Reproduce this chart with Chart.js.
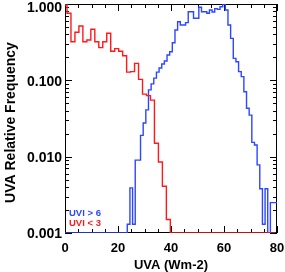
<!DOCTYPE html>
<html>
<head>
<meta charset="utf-8">
<script src="https://cdn.jsdelivr.net/npm/chart.js@4.4.1/dist/chart.umd.min.js"></script>
<style>
  html, body { margin: 0; padding: 0; background: #fff; }
  #wrap { width: 285px; height: 272px; }
</style>
</head>
<body>
<div id="wrap"><canvas id="c" width="285" height="272"></canvas></div>
<script>
// UVA histogrammi, log-skaala
const xTicks = [0, 20, 40, 60, 80];
const xTickLabels = ['0', '20', '40', '60', '80'];
const yTicks = [1, 0.1, 0.01, 0.001];
const yTickLabels = ['1.000', '0.100', '0.010', '0.001'];
const Y_MIN = 0.001, Y_MAX = 1;

// UVI < 3 (punainen), bin 1.5
const lowX = [0, 1.5, 3, 4.5, 6, 7.5, 9, 10.5, 12, 13.5, 15, 16.5, 18, 19.5, 21, 22.5, 24, 25.5, 27, 28.5,
  30, 31.5, 33, 34.5, 36, 37.5, 39, 40.5, 42, 43.5, 45, 46.5, 48, 49.5, 51, 52.5, 54, 55.5, 57, 58.5,
  60, 61.5, 63, 64.5, 66, 67.5, 69, 70.5, 72, 73.5, 75, 76.5, 78, 79.5];
const lowY = [0.97, 0.755, 0.32, 0.426, 0.515, 0.32, 0.337, 0.466, 0.32, 0.268, 0.32, 0.413, 0.24, 0.26, 0.24, 0.21, 0.128, 0.13, 0.167, 0.103,
  0.066, 0.063, 0.055, 0.015, 0.0085, 0.0041, 0.0015, 0, 0, 0, 0, 0, 0, 0, 0, 0, 0, 0, 0, 0,
  0, 0, 0, 0, 0, 0, 0, 0, 0, 0, 0, 0, 0, 0];

// UVI > 6 (sininen), bin 1
const highX = [0, 1, 2, 3, 4, 5, 6, 7, 8, 9, 10, 11, 12, 13, 14, 15, 16, 17, 18, 19, 20,
  21, 22, 23, 24, 25, 26, 27, 28, 29, 30, 31, 32, 33, 34, 35, 36, 37, 38, 39, 40,
  41, 42, 43, 44, 45, 46, 47, 48, 49, 50, 51, 52, 53, 54, 55, 56, 57, 58, 59, 60,
  61, 62, 63, 64, 65, 66, 67, 68, 69, 70, 71, 72, 73, 74, 75, 76, 77, 78, 79, 80];
const highY = [0, 0, 0, 0, 0, 0, 0, 0, 0, 0, 0, 0, 0, 0, 0, 0, 0, 0, 0, 0, 0,
  0, 0, 0, 0.0013, 0.0039, 0.0013, 0.009, 0.009, 0.019, 0.0276, 0.041, 0.075, 0.09, 0.107, 0.128, 0.145, 0.164, 0.179, 0.215, 0.237,
  0.311, 0.456, 0.586, 0.53, 0.53, 0.57, 0.79, 0.79, 0.65, 0.65, 0.905, 0.79, 0.79, 0.755, 0.835, 0.785, 0.87, 0.85, 0.92, 1.0,
  0.835, 0.53, 0.355, 0.194, 0.175, 0.13, 0.112, 0.071, 0.043, 0.035, 0.0154, 0.0142, 0.0078, 0.0038, 0.0013, 0.0038, 0, 0.0025, 0.0025, 0.0025];

const RED = 'rgb(255,25,25)';
const BLUE = 'rgb(45,70,255)';
const FONT = '"Liberation Sans", Arial, sans-serif';

// tyhjät binit piirretään akselin pohjalle kuten IDL:ssä
const pts = (xs, ys) => xs.map((v, i) => ({ x: v, y: ys[i] > 0 ? ys[i] : Y_MIN }));

const kehys = {
  id: 'kehys',
  beforeDatasetsDraw(chart) {
    const { ctx: c, chartArea: a, scales: { x, y } } = chart;
    c.save();
    c.strokeStyle = '#000'; c.lineWidth = 1;
    c.strokeRect(a.left + 0.5, a.top + 0.5, a.right - a.left - 1, a.bottom - a.top - 1);

    // x-tikit, pienet 5 välein
    c.beginPath();
    for (let v = 0; v <= 80; v += 5) {
      const px = Math.round(x.getPixelForValue(v)) + 0.5;
      const len = xTicks.includes(v) ? 7 : 4;
      c.moveTo(px, a.bottom); c.lineTo(px, a.bottom - len);
      c.moveTo(px, a.top); c.lineTo(px, a.top + len);
    }
    // y-tikit, log
    for (let d = Y_MIN; d < Y_MAX * 1.5; d *= 10) {
      for (let m = 1; m <= 9; m++) {
        const v = d * m;
        if (v > Y_MAX * 1.0001) break;
        const py = Math.round(y.getPixelForValue(v)) + 0.5;
        const len = m === 1 ? 7 : 4;
        c.moveTo(a.left, py); c.lineTo(a.left + len, py);
        c.moveTo(a.right, py); c.lineTo(a.right - len, py);
      }
    }
    c.stroke();

    c.fillStyle = '#000';
    c.font = 'bold 13px ' + FONT;
    c.textAlign = 'center'; c.textBaseline = 'middle';
    xTicks.forEach((v, i) => c.fillText(xTickLabels[i], x.getPixelForValue(v), 248));
    c.fillText('UVA (Wm-2)', (a.left + a.right) / 2, 265);

    c.font = 'bold 14px ' + FONT;
    c.textAlign = 'right';
    yTicks.forEach((v, i) => c.fillText(yTickLabels[i], a.left - 3, Math.max(y.getPixelForValue(v) + 1.5, 8)));

    c.textAlign = 'center';
    c.save();
    c.translate(11, (a.top + a.bottom) / 2 + 4);
    c.rotate(-Math.PI / 2);
    c.fillText('UVA Relative Frequency', 0, 0);
    c.restore();

    // selite
    c.font = 'bold 9.5px ' + FONT;
    c.textAlign = 'left';
    chart.data.datasets.slice().reverse().forEach((ds, i) => {
      c.fillStyle = ds.borderColor;
      c.fillText(ds.label, 69, 213 + i * 10);
    });
    c.restore();
  }
};

new Chart(document.getElementById('c'), {
  type: 'line',
  data: {
    datasets: [
      { label: 'UVI < 3', data: pts(lowX, lowY), borderColor: RED, stepped: 'middle' },
      { label: 'UVI > 6', data: pts(highX, highY), borderColor: BLUE, stepped: 'middle' }
    ]
  },
  options: {
    responsive: false, animation: false,
    layout: { padding: { left: 65, right: 8, top: 4, bottom: 39 } },
    elements: { line: { borderWidth: 1.4, fill: false }, point: { radius: 0 } },
    plugins: { legend: { display: false }, tooltip: { enabled: false } },
    scales: {
      x: { type: 'linear', min: 0, max: 80, display: false },
      y: { type: 'logarithmic', min: Y_MIN, max: Y_MAX, display: false }
    }
  },
  plugins: [kehys]
});
</script>
</body>
</html>
